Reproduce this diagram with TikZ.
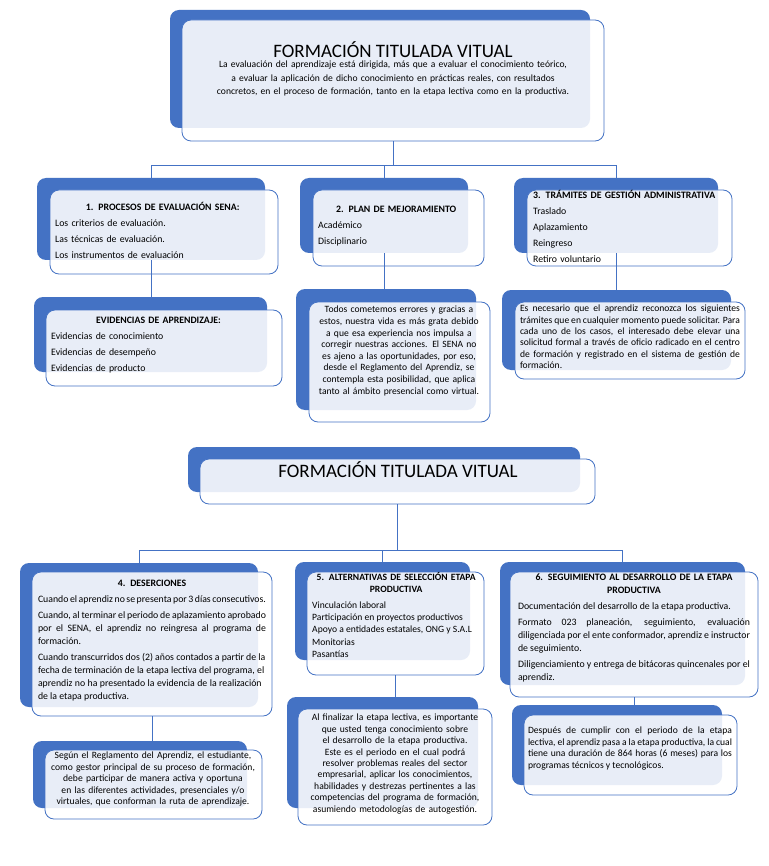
\documentclass[tikz,border=0pt]{standalone}
\usepackage{fontspec}
\usepackage{ragged2e}
\setmainfont{Carlito}
\usetikzlibrary{fit,calc}
\definecolor{bl}{HTML}{4472C4}
\tikzset{
 backs/.style={fill=bl,draw=none,rounded corners=9pt,inner sep=0pt},
 front/.style={draw=bl,line width=0.8pt,fill=white,fill opacity=0.88,rounded corners=9pt,inner sep=0pt},
 txt/.style={font=\fontsize{9.8}{13}\selectfont,inner sep=0pt,text=black,execute at begin node={\parindent=0pt\hyphenpenalty=10000\exhyphenpenalty=10000\RaggedRightParindent=0pt\JustifyingParindent=0pt}},
 conn/.style={draw=bl,line width=0.9pt}
}
\newcommand\bxx[5]{%
 \coordinate (#1-p) at (#2); \coordinate (#1-q) at (#3);
 \node[backs,fit=(#1-p)(#1-q)] (#1bk) {};
 \coordinate (#1-r) at (#4); \coordinate (#1-s) at (#5);
 \node[front,fit=(#1-r)(#1-s)] (#1) {};}
\newcommand\ps{\par\vspace{3pt}}
\begin{document}
\begin{tikzpicture}[x=1pt,y=-1pt]
\useasboundingbox[fill=white] (0,0) rectangle (768,866);
% top
\bxx{t}{170,10}{590,128}{182,20}{604,141}
\node[txt,font=\fontsize{19}{21}\selectfont] at (393,50) {FORMACIÓN TITULADA VITUAL};
\node[txt,text width=405pt,align=center,anchor=north,font=\fontsize{9.6}{13.5}\selectfont] at (393,61) {La evaluación del aprendizaje está dirigida, más que a evaluar el conocimiento teórico, a evaluar la aplicación de dicho conocimiento en prácticas reales, con resultados concretos, en el proceso de formación, tanto en la etapa lectiva como en la productiva.};
% row1
\bxx{b1}{37,178}{265,260}{50,190}{278,274}
\node[txt,anchor=north west,text width=215pt] at (55,202) {{\centering\textbf{1. PROCESOS DE EVALUACIÓN SENA:}\par}\vspace{3pt}Los criterios de evaluación.\ps Las técnicas de evaluación.\ps Los instrumentos de evaluación};
\bxx{b2}{300,178}{468,253}{313,190}{484,266}
\node[txt,anchor=north west,text width=165pt] at (318,206) {\hspace*{18pt}\textbf{2. PLAN DE MEJORAMIENTO}\par\vspace{3pt}Académico\ps Disciplinario};
\bxx{b3}{514,178}{718,253}{527,190}{732,266}
\node[txt,anchor=north west,text width=205pt] at (533,190) {\textbf{3. TRÁMITES DE GESTIÓN ADMINISTRATIVA}\par\vspace{3pt}Traslado\ps Aplazamiento\ps Reingreso\ps Retiro voluntario};
% row1b
\bxx{c1}{34,297}{267,372}{46,310}{282,386}
\node[txt,anchor=north west,text width=225pt] at (51,317) {\hspace*{45pt}\textbf{EVIDENCIAS DE APRENDIZAJE:}\par\vspace{3pt}Evidencias de conocimiento\ps Evidencias de desempeño\ps Evidencias de producto};
\bxx{c2}{296,289}{476,410}{309,302}{490,422}
\node[txt,anchor=north,text width=172pt,align=center,font=\fontsize{9.6}{11.6}\selectfont] at (399,306) {Todos cometemos errores y gracias a estos, nuestra vida es más grata debido a que esa experiencia nos impulsa a corregir nuestras acciones. El SENA no es ajeno a las oportunidades, por eso, desde el Reglamento del Aprendiz, se contempla esta posibilidad, que aplica tanto al ámbito presencial como virtual.};
\bxx{c3}{502,290}{731,370}{515,302}{745,379}
\node[txt,anchor=north,text width=220pt,align=justify,font=\fontsize{9.6}{11.3}\selectfont] at (630,305) {Es necesario que el aprendiz reconozca los siguientes trámites que en cualquier momento puede solicitar. Para cada uno de los casos, el interesado debe elevar una solicitud formal a través de oficio radicado en el centro de formación y registrado en el sistema de gestión de formación.};
\draw[conn] (t.south) -- ++(0,24) coordinate (j1);
\draw[conn] (b1bk.north) |- (j1) -| (b3bk.north);
\draw[conn] (b2bk.north) -- (b2bk.north |- j1);
\draw[conn] (b1bk.south) -- (b1bk.south |- c1bk.north);
\draw[conn] (b2bk.south) -- (b2bk.south |- c2bk.north);
\draw[conn] (b3bk.south) -- (b3bk.south |- c3bk.north);
% bottom
\bxx{u}{188,447}{580,492}{200,459}{595,504}
\node[txt,font=\fontsize{19}{21}\selectfont] at (398,470) {FORMACIÓN TITULADA VITUAL};
\bxx{d1}{20,563}{258,707}{32,572}{272,716}
\node[txt,anchor=north,text width=228pt] at (152,580) {{\centering\textbf{4. DESERCIONES}\par}\vspace{3pt}\justifying Cuando el aprendiz no se presenta por 3 días consecutivos.\ps Cuando, al terminar el periodo de aplazamiento aprobado por el SENA, el aprendiz no reingresa al programa de formación.\ps Cuando transcurridos dos (2) años contados a partir de la fecha de terminación de la etapa lectiva del programa, el aprendiz no ha presentado la evidencia de la realización de la etapa productiva.};
\bxx{d2}{295,562}{470,660}{307,572}{484,675}
\node[txt,anchor=north west,text width=168pt,font=\fontsize{9.6}{12.4}\selectfont] at (312,572) {{\centering\textbf{5. ALTERNATIVAS DE SELECCIÓN ETAPA PRODUCTIVA}\par}\vspace{3pt}\justifying Vinculación laboral\par Participación en proyectos productivos\par Apoyo a entidades estatales, ONG y S.A.L\par Monitorias\par Pasantías};
\bxx{d3}{500,562}{745,685}{510,572}{758,697}
\node[txt,anchor=north,text width=232pt] at (634,574) {{\centering\textbf{6. SEGUIMIENTO AL DESARROLLO DE LA ETAPA PRODUCTIVA}\par}\vspace{3pt}\justifying Documentación del desarrollo de la etapa productiva.\ps Formato 023 planeación, seguimiento, evaluación diligenciada por el ente conformador, aprendiz e instructor de seguimiento.\ps Diligenciamiento y entrega de bitácoras quincenales por el aprendiz.};
\bxx{e1}{33,741}{247,808}{45,750}{262,819}
\node[txt,anchor=north,text width=208pt,align=center,font=\fontsize{9.6}{11.5}\selectfont] at (153,752) {Según el Reglamento del Aprendiz, el estudiante, como gestor principal de su proceso de formación, debe participar de manera activa y oportuna en las diferentes actividades, presenciales y/o virtuales, que conforman la ruta de aprendizaje.};
\bxx{e2}{287,697}{478,808}{298,709}{492,825}
\node[txt,anchor=north,text width=184pt,align=center,font=\fontsize{9.6}{11.4}\selectfont] at (395,714) {Al finalizar la etapa lectiva, es importante que usted tenga conocimiento sobre el desarrollo de la etapa productiva. Este es el periodo en el cual podrá resolver problemas reales del sector empresarial, aplicar los conocimientos, habilidades y destrezas pertinentes a las competencias del programa de formación, asumiendo metodologías de autogestión.};
\bxx{e3}{512,705}{722,785}{524,715}{737,795}
\node[txt,anchor=north,text width=204pt,align=justify,font=\fontsize{9.6}{11.5}\selectfont] at (630,727) {Después de cumplir con el periodo de la etapa lectiva, el aprendiz pasa a la etapa productiva, la cual tiene una duración de 864 horas (6 meses) para los programas técnicos y tecnológicos.};
\draw[conn] (u.south) -- ++(0,46) coordinate (j2);
\draw[conn] (d1bk.north) |- (j2) -| (d3bk.north);
\draw[conn] (d2bk.north) -- (d2bk.north |- j2);
\draw[conn] (d1.south) -- (d1.south |- e1bk.north);
\draw[conn] (d2.south) -- (d2.south |- e2bk.north);
\draw[conn] (d3.south) -- (d3.south |- e3bk.north);
\end{tikzpicture}
\end{document}
